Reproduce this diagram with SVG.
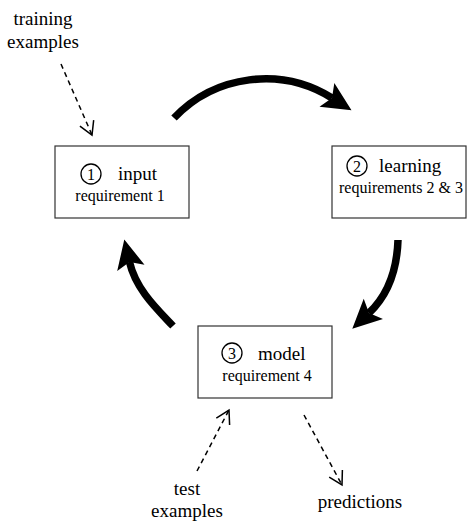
<svg xmlns="http://www.w3.org/2000/svg" width="474" height="530" viewBox="0 0 474 530">
<style>
  text { font-family: "Liberation Serif", "DejaVu Serif", serif; fill: #000; }
  .lbl { font-size: 19px; text-anchor: middle; }
  .req { font-size: 16px; text-anchor: middle; }
  .main { font-size: 19px; }
  .num { font-size: 16px; text-anchor: middle; }
  .box { fill: #fff; stroke: #333; stroke-width: 1.2; }
  .ring { fill: none; stroke: #000; stroke-width: 1.3; }
  .cycle { fill: none; stroke: #000; stroke-width: 7.5; marker-end: url(#bighead); }
  .dash { fill: none; stroke: #000; stroke-width: 1.5; stroke-dasharray: 5 4; marker-end: url(#openhead); }
</style>
<defs>
  <marker id="bighead" markerUnits="userSpaceOnUse" viewBox="-30 -30 60 60" markerWidth="60" markerHeight="60" refX="0" refY="0" orient="auto">
    <path d="M-6,-14 L23,0 L-6,14 L0,0 Z" fill="#000"/>
  </marker>
  <marker id="openhead" markerUnits="userSpaceOnUse" viewBox="-20 -20 40 40" markerWidth="40" markerHeight="40" refX="0" refY="0" orient="auto">
    <path d="M-13,-7.5 L0,0 L-13,7.5" fill="none" stroke="#000" stroke-width="1.5"/>
  </marker>
</defs>
<rect width="474" height="530" fill="#fff"/>

<g id="connectors">
  <path id="c-input-learning" class="cycle" d="M174,118 A126,126 0 0 1 332,98"/>
  <path id="c-learning-model" class="cycle" d="M398,240 C397,270 388,295 369,313"/>
  <path id="c-model-input" class="cycle" d="M173,326 C158,310 136,290 129.5,262"/>
  <path id="c-training" class="dash" d="M61,64 L92,135"/>
  <path id="c-test" class="dash" d="M197,471 L229,410"/>
  <path id="c-predictions" class="dash" d="M304,415 L342,485"/>
</g>

<g id="node-input">
  <rect class="box" x="55" y="146" width="134" height="72"/>
  <circle class="ring" cx="91" cy="174" r="10"/>
  <text class="num" x="91" y="179.5">1</text>
  <text class="main" x="118" y="180">input</text>
  <text class="req" x="120" y="201">requirement 1</text>
</g>

<g id="node-learning">
  <rect class="box" x="332" y="146" width="134" height="72"/>
  <circle class="ring" cx="357" cy="166" r="10"/>
  <text class="num" x="357" y="171.5">2</text>
  <text class="main" x="379" y="172">learning</text>
  <text class="req" x="401" y="193">requirements 2 &amp; 3</text>
</g>

<g id="node-model">
  <rect class="box" x="198" y="326" width="134" height="72"/>
  <circle class="ring" cx="232" cy="353" r="10"/>
  <text class="num" x="232" y="358.5">3</text>
  <text class="main" x="258" y="360">model</text>
  <text class="req" x="267" y="381">requirement 4</text>
</g>

<g id="node-training">
  <text class="lbl" x="43" y="25">training</text>
  <text class="lbl" x="43" y="48">examples</text>
</g>

<g id="node-test">
  <text class="lbl" x="187" y="495">test</text>
  <text class="lbl" x="187" y="517">examples</text>
</g>

<g id="node-predictions">
  <text class="lbl" x="360" y="508">predictions</text>
</g>
</svg>
